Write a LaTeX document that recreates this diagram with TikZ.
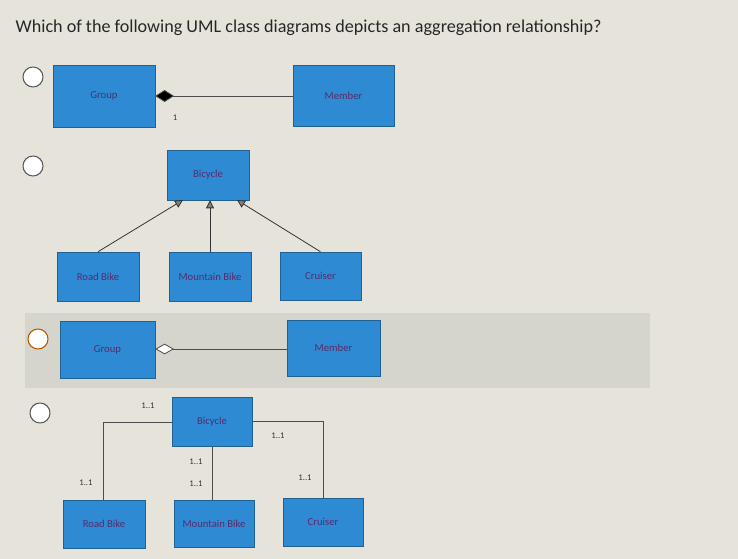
\documentclass[tikz,border=0pt]{standalone}
\usepackage{fontspec}
\setmainfont{Carlito}
\usetikzlibrary{arrows.meta}
\definecolor{bg}{HTML}{E6E4DA}
\definecolor{band}{HTML}{D6D5CC}
\definecolor{boxc}{HTML}{2E8BD3}
\definecolor{txt}{HTML}{5A2A6A}
\tikzset{
 cls/.style={draw=boxc!70!black,fill=boxc,text=txt,font=\fontsize{8}{9}\selectfont,inner sep=0pt},
 radio/.style={draw=gray!70!black,fill=white,circle,minimum size=15pt,inner sep=0pt,line width=0.8pt},
 link/.style={draw=gray!60!black,line width=0.6pt},
 mult/.style={font=\fontsize{6.5}{7}\selectfont,text=black!80}
}
\newcommand{\cbox}[6]{\node[cls,minimum width=#4*0.75pt-#2*0.75pt,minimum height=#5*0.75pt-#3*0.75pt] (#1) at ({(#2+#4)/2},{(#3+#5)/2}) {#6};}
\begin{document}
\begin{tikzpicture}[x=0.75pt,y=-0.75pt]
\fill[bg] (0,0) rectangle (738,559);
\useasboundingbox (0,0) rectangle (738,559);
\fill[band] (25,313) rectangle (650,388);
\node[anchor=west,font=\fontsize{13.6}{15}\selectfont,text=black!85] (title) at (11,28) {Which of the following UML class diagrams depicts an aggregation relationship?};
\node[radio] (r1) at (33,77) {};
\node[radio] (r2) at (33,166) {};
\node[radio,draw=orange!70!black] (r3) at (38,339) {};
\node[radio] (r4) at (40,413) {};
% Q1
\cbox{g1}{53}{65}{155}{127}{Group}
\cbox{m1}{293}{65}{394}{126}{Member}
\draw[link,{Diamond[length=14pt,width=9pt,fill=black]}-] (g1.east|-0,96) -- (m1.west|-0,96);
\node[mult] (n1) at (175,118) {1};
% Q2
\cbox{b2}{167}{150}{249}{200}{Bicycle}
\cbox{rb2}{57}{252}{139}{301}{Road Bike}
\cbox{mb2}{169}{252}{251}{301}{Mountain Bike}
\cbox{c2}{280}{252}{361}{300}{Cruiser}
\draw[link,draw=black!80,-{Triangle[length=6pt,width=6pt,fill=gray]}] (rb2.north) -- (183,200);
\draw[link,draw=black!80,-{Triangle[length=6pt,width=6pt,fill=gray]}] (mb2.north) -- (mb2.north|-b2.south);
\draw[link,draw=black!80,-{Triangle[length=6pt,width=6pt,fill=gray]}] (c2.north) -- (237,200);
% Q3
\cbox{g3}{60}{321}{155}{378}{Group}
\cbox{m3}{287}{320}{380}{376}{Member}
\draw[link,{Diamond[open,length=14pt,width=8pt,fill=white]}-] (g3.east|-0,349) -- (m3.west|-0,349);
% Q4
\cbox{b4}{172}{397}{252}{446}{Bicycle}
\cbox{rb4}{63}{500}{145}{548}{Road Bike}
\cbox{mb4}{174}{500}{254}{547}{Mountain Bike}
\cbox{c4}{283}{498}{363}{546}{Cruiser}
\draw[link] (b4.west|-0,422) -| (103,500);
\draw[link] (b4.south) -- (b4.south|-mb4.north);
\draw[link] (b4.east|-0,421) -| (323,498);
\node[mult] at (148,406) {1..1};
\node[mult] at (196,462) {1..1};
\node[mult] at (196,484) {1..1};
\node[mult] at (86,483) {1..1};
\node[mult] at (278,436) {1..1};
\node[mult] at (305,478) {1..1};
\end{tikzpicture}
\end{document}
